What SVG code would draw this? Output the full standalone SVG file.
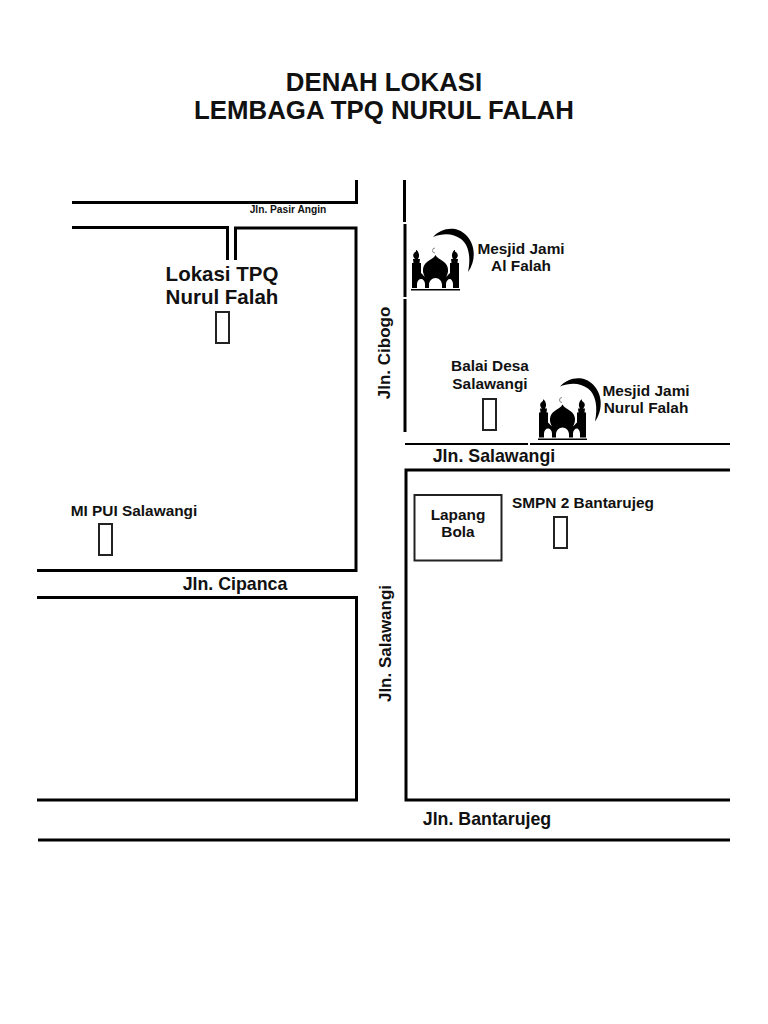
<svg xmlns="http://www.w3.org/2000/svg" width="768" height="1024" viewBox="0 0 768 1024">
<style>
text{font-family:"Liberation Sans",Arial,sans-serif;font-weight:bold;fill:#111;text-anchor:middle}
.r{fill:none;stroke:#000;stroke-width:3}
.t{fill:none;stroke:#000;stroke-width:2}
.b{fill:#fff;stroke:#222;stroke-width:2}
.s{font-size:15.400px}
.m{font-size:17.800px}
.v{font-size:17px}
</style>
<defs>
<g id="mosque">
<path fill="#000" d="M22-11C30-20 45-23 55-13C65-3 65 13 57 24C60 10 58-3 50-9C42-15 32-15 22-11Z"/>
<path fill="none" stroke="#888" stroke-width="1" d="M24 0A2.500 2.500 0 0 0 24 5"/>
<path fill="#000" fill-rule="evenodd" d="M1 40V15H2.500L2 11H4C1 8 2 5 5 3.500V2H5.500C8 4 9 8 7 11H9L8.500 15H10V25C12 27 13 28 14 29C11 24 11 18 16 14C20 11 23 10 24.500 7C26 10 29 11 33 14C38 18 38 24 35 29C36 28 37 27 39 25V15H40.500L40 11H42C40 8 41 4 43.500 2H44V3.500C47 5 48 8 45 11H47L46.500 15H48V40H42V36C42 33 40 31 39 31C37 31 35 33 35 36V40H31V37C31 33 28 30 24.500 30C21 30 18 33 18 37V40H14V36C14 33 12 31 10 31C8 31 6 33 6 36V40Z"/>
<path fill="#000" d="M0 41H49V42.500H0Z"/>
</g>
</defs>
<g id="title">
<text x="384" y="91" font-size="25.800">DENAH LOKASI</text>
<text x="384" y="119" font-size="25.800">LEMBAGA TPQ NURUL FALAH</text>
</g>
<g id="connectors">
<path class="r" d="M72 202.500H356.500V180"/>
<path class="r" d="M72 227.500H227.500V260"/>
<path class="r" d="M235.500 260V228H356V570.500H37"/>
<path class="r" d="M37 597.500H356.500V800H37"/>
<path class="r" d="M404.500 180V222M405 224V297M405 299V432"/>
<path class="t" d="M405 444H528M530 444H730"/>
<path class="r" d="M730 470H406V800H730"/>
<path class="r" d="M38 840H730"/>
</g>
<g id="road-labels">
<text x="288" y="213" font-size="10.200">Jln. Pasir Angin</text>
<text class="m" x="235" y="590">Jln. Cipanca</text>
<text class="m" x="494" y="462">Jln. Salawangi</text>
<text class="m" x="487" y="825">Jln. Bantarujeg</text>
<text class="v" transform="translate(390 353) rotate(-90)">Jln. Cibogo</text>
<text class="v" transform="translate(390.500 643.500) rotate(-90)">Jln. Salawangi</text>
</g>
<g id="tpq">
<text x="222" y="281" font-size="20.500">Lokasi TPQ</text>
<text x="222" y="304" font-size="20.500">Nurul Falah</text>
<rect class="b" x="216" y="312" width="13" height="31"/>
</g>
<g id="mi-pui">
<text class="s" x="134" y="516">MI PUI Salawangi</text>
<rect class="b" x="99" y="524" width="13" height="31"/>
</g>
<g id="mesjid-al-falah">
<use href="#mosque" x="411" y="248"/>
<text class="s" x="521" y="254">Mesjid Jami</text>
<text class="s" x="521" y="271">Al Falah</text>
</g>
<g id="balai-desa">
<text class="s" x="490" y="371">Balai Desa</text>
<text class="s" x="490" y="389">Salawangi</text>
<rect class="b" x="483" y="399" width="13" height="31"/>
</g>
<g id="mesjid-nurul-falah">
<use href="#mosque" x="538" y="397.500"/>
<text class="s" x="646" y="396">Mesjid Jami</text>
<text class="s" x="646" y="413">Nurul Falah</text>
</g>
<g id="lapang-bola">
<rect x="414.500" y="495" width="87" height="65.500" fill="#fff" stroke="#222" stroke-width="2"/>
<text class="s" x="458" y="520">Lapang</text>
<text class="s" x="458" y="537">Bola</text>
</g>
<g id="smpn">
<text class="s" x="583" y="508">SMPN 2 Bantarujeg</text>
<rect class="b" x="554" y="517" width="13" height="31"/>
</g>
</svg>
